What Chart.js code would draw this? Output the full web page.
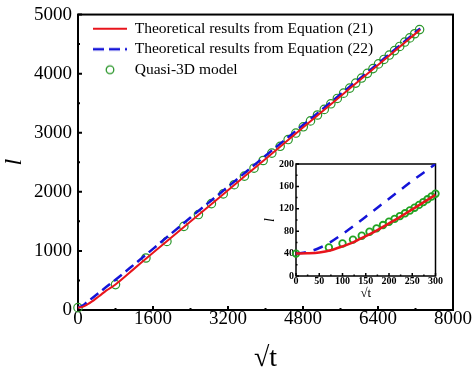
<!DOCTYPE html>
<html>
<head>
<meta charset="utf-8">
<script src="https://cdn.jsdelivr.net/npm/chart.js@4.4.0/dist/chart.umd.min.js"></script>
<style>
    html, body { margin: 0; padding: 0; background: #fff; }
    #wrap { position: relative; width: 474px; height: 375px; }
    #mainChart { position: absolute; left: 0; top: 0; }
    #insetChart { position: absolute; left: 262px; top: 155px; }
</style>
</head>
<body>
<div id="wrap">
    <canvas id="mainChart" width="474" height="375"></canvas>
    <canvas id="insetChart" width="182" height="146"></canvas>
</div>
<script>
// main plot: sqrt(t) vs l
const eq21X = [0, 100, 200, 300, 400, 500, 600, 800, 1200, 1600, 2400, 3200, 4000, 4800, 5600, 6400, 7300];
const eq21L = [40, 53, 94, 145, 205, 265, 327, 432, 700, 968, 1497, 2027, 2557, 3087, 3617, 4147, 4745];

const eq22X = [0, 100, 200, 300, 400, 600, 800, 1200, 1600, 2400, 3200, 4000, 4800, 5600, 6400, 7300];
const eq22L = [40, 75, 138, 200, 262, 388, 512, 772, 1035, 1565, 2085, 2610, 3130, 3650, 4170, 4765];

const quasiX = [0, 800, 1449, 1897, 2258, 2569, 2846, 3098, 3332, 3550, 3755, 3950, 4135, 4313, 4483,
    4648, 4806, 4960, 5109, 5254, 5394, 5532, 5666, 5797, 5925, 6050, 6173, 6293, 6411, 6527,
    6641, 6753, 6863, 6971, 7078, 7183, 7287];
const quasiL = [40, 430, 880, 1160, 1415, 1615, 1800, 1965, 2120, 2265, 2400, 2530, 2655, 2770, 2885,
    2995, 3100, 3200, 3300, 3395, 3490, 3580, 3670, 3755, 3840, 3925, 4005, 4085, 4165, 4240,
    4315, 4390, 4460, 4535, 4605, 4675, 4745];

// inset: early stage
const insetEq21X = [0, 25, 50, 75, 100, 125, 150, 175, 200, 225, 250, 275, 300];
const insetEq21L = [40, 40.5, 42, 46, 53, 61, 71, 82, 94, 106, 119, 132, 145];

const insetEq22X = [0, 25, 50, 75, 100, 125, 150, 175, 200, 225, 250, 275, 300];
const insetEq22L = [40, 43, 50, 61, 75, 90, 106, 122, 138, 154, 170, 185, 200];

const insetQuasiX = [0, 70.7, 100, 122.5, 141.4, 158.1, 173.2, 187.1, 200, 212.1, 223.6, 234.5,
    244.9, 255, 264.6, 273.9, 282.8, 291.5, 300];
const insetQuasiL = [40, 51, 58, 65, 72, 79, 85, 91, 97, 102, 107, 112, 117, 122, 127, 132, 137, 142, 147];

const legendLabels = ['Theoretical results from Equation (21)', 'Theoretical results from Equation (22)', 'Quasi-3D model'];

const RED = '#e8141c';
const BLUE = '#1414d8';
const GREEN = '#2a962a';
const SERIF = "'Liberation Serif', 'Times New Roman', serif";

function pts(xs, ys) {
    return xs.map((v, i) => ({ x: v, y: ys[i] }));
}

// inward ticks + box frame
function frameTicks(majorLen, minorLen, lw) {
    return {
        id: 'frameTicks',
        beforeDatasetsDraw(chart) {
            const { ctx, chartArea: a, scales: { x, y } } = chart;
            ctx.save();
            ctx.strokeStyle = '#000';
            ctx.lineWidth = lw;
            ctx.beginPath();
            x.ticks.forEach((t, i) => {
                const px = x.getPixelForValue(t.value);
                ctx.moveTo(px, a.bottom);
                ctx.lineTo(px, a.bottom - majorLen);
                if (i > 0) {
                    const mx = x.getPixelForValue((t.value + x.ticks[i - 1].value) / 2);
                    ctx.moveTo(mx, a.bottom);
                    ctx.lineTo(mx, a.bottom - minorLen);
                }
            });
            y.ticks.forEach((t, i) => {
                const py = y.getPixelForValue(t.value);
                ctx.moveTo(a.left, py);
                ctx.lineTo(a.left + majorLen, py);
                if (i > 0) {
                    const my = y.getPixelForValue((t.value + y.ticks[i - 1].value) / 2);
                    ctx.moveTo(a.left, my);
                    ctx.lineTo(a.left + minorLen, my);
                }
            });
            ctx.stroke();
            ctx.strokeRect(a.left, a.top, a.right - a.left, a.bottom - a.top);
            ctx.restore();
        }
    };
}

// the chartArea legend starts at y=0, push it down to sit inside the frame
const legendShift = {
    id: 'legendShift',
    afterLayout(chart) {
        chart.legend.top += 16;
        chart.legend.bottom += 16;
    }
};

// legend samples (line, dashed line, circle)
function legendSample(kind) {
    const c = document.createElement('canvas');
    c.width = 44;
    c.height = 12;
    const g = c.getContext('2d');
    if (kind === 'circle') {
        g.strokeStyle = GREEN;
        g.lineWidth = 1.3;
        g.beginPath();
        g.arc(27, 6, 3.8, 0, Math.PI * 2);
        g.stroke();
    } else {
        g.strokeStyle = kind === 'solid' ? RED : BLUE;
        g.lineWidth = kind === 'solid' ? 2 : 2.5;
        if (kind === 'dash') g.setLineDash([11, 5]);
        g.beginPath();
        g.moveTo(10, 6);
        g.lineTo(44, 6);
        g.stroke();
    }
    return c;
}
const legendImgs = [legendSample('solid'), legendSample('dash'), legendSample('circle')];

const plain = v => String(v);

new Chart(document.getElementById('mainChart'), {
    type: 'line',
    data: {
        datasets: [
            {
                label: legendLabels[0],
                data: pts(eq21X, eq21L),
                borderColor: RED,
                borderWidth: 2,
                pointRadius: 0,
                cubicInterpolationMode: 'monotone'
            },
            {
                label: legendLabels[1],
                data: pts(eq22X, eq22L),
                borderColor: BLUE,
                borderWidth: 2.5,
                borderDash: [10, 5],
                pointRadius: 0,
                cubicInterpolationMode: 'monotone'
            },
            {
                label: legendLabels[2],
                data: pts(quasiX, quasiL),
                showLine: false,
                pointRadius: 4.2,
                pointBorderWidth: 1.2,
                pointBorderColor: GREEN,
                pointBackgroundColor: 'rgba(0,0,0,0)',
                clip: false
            }
        ]
    },
    options: {
        responsive: false,
        animation: false,
        layout: { padding: { left: 0, top: 9, right: 21, bottom: 0 } },
        plugins: {
            tooltip: { enabled: false },
            legend: {
                position: 'chartArea',
                align: 'start',
                labels: {
                    usePointStyle: true,
                    pointStyleWidth: 44,
                    boxHeight: 12,
                    padding: 5,
                    color: '#000',
                    font: { family: SERIF, size: 15.5 },
                    generateLabels(chart) {
                        const items = Chart.defaults.plugins.legend.labels.generateLabels(chart);
                        items.forEach((it, i) => { it.pointStyle = legendImgs[i]; });
                        return items;
                    }
                }
            }
        },
        scales: {
            x: {
                type: 'linear',
                min: 0,
                max: 8000,
                ticks: { stepSize: 1600, autoSkip: false, maxRotation: 0, padding: 0, color: '#000',
                    callback: plain, font: { family: SERIF, size: 19, lineHeight: 0.9 } },
                grid: { display: false, drawTicks: false },
                border: { display: false },
                title: { display: true, text: '√t', color: '#000', padding: 0,
                    font: { family: SERIF, size: 28 } },
                afterFit(scale) { scale.height = 65; }
            },
            y: {
                min: 0,
                max: 5000,
                ticks: { stepSize: 1000, padding: 6, color: '#000',
                    callback: plain, font: { family: SERIF, size: 19, lineHeight: 0.9 } },
                grid: { display: false, drawTicks: false },
                border: { display: false },
                title: { display: true, text: 'l', color: '#000', padding: 0,
                    font: { family: SERIF, size: 24, style: 'italic' } },
                afterFit(scale) { scale.width = 78; }
            }
        }
    },
    plugins: [frameTicks(4, 2, 2), legendShift]
});

new Chart(document.getElementById('insetChart'), {
    type: 'line',
    data: {
        datasets: [
            {
                data: pts(insetEq21X, insetEq21L),
                borderColor: RED,
                borderWidth: 2.5,
                pointRadius: 0,
                cubicInterpolationMode: 'monotone'
            },
            {
                data: pts(insetEq22X, insetEq22L),
                borderColor: BLUE,
                borderWidth: 2.5,
                borderDash: [10, 8],
                pointRadius: 0,
                cubicInterpolationMode: 'monotone'
            },
            {
                data: pts(insetQuasiX, insetQuasiL),
                showLine: false,
                pointRadius: 3.3,
                pointBorderWidth: 1.8,
                pointBorderColor: '#22a322',
                pointBackgroundColor: 'rgba(0,0,0,0)',
                clip: false
            }
        ]
    },
    options: {
        responsive: false,
        animation: false,
        layout: { padding: { left: 0, top: 9, right: 6, bottom: 0 } },
        plugins: { legend: { display: false }, tooltip: { enabled: false } },
        scales: {
            x: {
                type: 'linear',
                min: 0,
                max: 300,
                ticks: { stepSize: 50, autoSkip: false, maxRotation: 0, padding: 1, color: '#000',
                    callback: plain, font: { family: SERIF, size: 10, weight: 'bold', lineHeight: 0.9 } },
                grid: { display: false, drawTicks: false },
                border: { display: false },
                title: { display: true, text: '√t', color: '#000', padding: 0,
                    font: { family: SERIF, size: 13 } },
                afterFit(scale) { scale.height = 25; }
            },
            y: {
                min: 0,
                max: 200,
                ticks: { stepSize: 40, padding: 2, color: '#000',
                    callback: plain, font: { family: SERIF, size: 10, weight: 'bold', lineHeight: 0.9 } },
                grid: { display: false, drawTicks: false },
                border: { display: false },
                title: { display: true, text: 'l', color: '#000', padding: 0,
                    font: { family: SERIF, size: 14, style: 'italic' } },
                afterFit(scale) { scale.width = 34; }
            }
        }
    },
    plugins: [frameTicks(3, 1.5, 1.5)]
});
</script>
</body>
</html>
